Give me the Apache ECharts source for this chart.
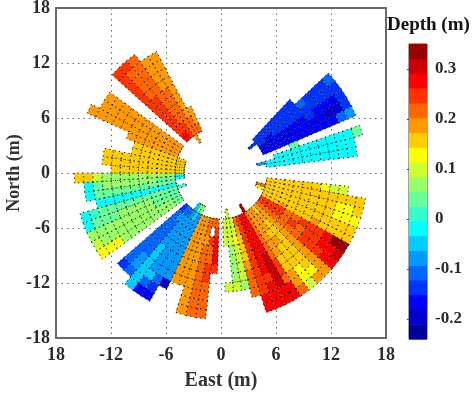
<!DOCTYPE html>
<html><head><meta charset="utf-8">
<style>html,body{margin:0;padding:0;background:#fff}#c{width:474px;height:395px}</style>
<script src="https://cdn.jsdelivr.net/npm/echarts@6/dist/echarts.min.js"></script>
</head><body><div id="c"></div>
<script>
const xTickLabels = {'-18':'18','-12':'-12','-6':'-6','0':'0','6':'6','12':'12','18':'18'};
const yTickLabels = {'-18':'-18','-12':'-12','-6':'-6','0':'0','6':'6','12':'12','18':'18'};
const depthTicks = [-0.2,-0.1,0,0.1,0.2,0.3];
const depthMin = -0.24, depthMax = 0.35;
const jetColors = ['#000099','#0000cc','#0000ff','#0033ff','#0066ff','#0099ff','#00ccff','#00ffff','#33ffcc','#66ff99',
  '#99ff66','#ccff33','#ffff00','#ffcc00','#ff9900','#ff6600','#ff3300','#ff0000','#cc0000','#990000'];
const beamWidth = 4, gateLength = 1;
// bearing (deg clockwise from north) where each beam starts
const beamBearing = [43,47,51,55,59,63,67,71,75,79,
  96,100,104,108,112,116,119,123,127,131,135,139,143,147,150,154,158,162,166,170,174,
  182,186,190,194,198,201,205,209,213,217,221,225,
  234,238,242,246,250,254,258,262,266,270,274,278,282,286,290,294,298,302,
  312,316,320,324,328,332];
// range (m) of the first gate of each beam
const beamFirstRange = [5,4,5,5,5,5,8,6,4,5,
  5,5,4,4,5,5,5,5,5,5,5,5,5,4,5,5,5,5,5,4,5,
  5,5,5,5,5,5,4,4,4,5,5,5,
  5,5,5,5,4,5,5,4,4,4,4,4,4,4,5,5,5,5,
  5,5,5,4,5,5];
// depth (m) per range gate, inner to outer
const beamDepth = [
 [-.14,-.14,-.14,-.14,-.14,-.14],
 [-.14,-.14,-.14,-.14,-.14,-.14,-.14,-.11,-.14,-.14,-.14,-.11],
 [-.14,-.17,-.14,-.14,-.14,-.14,-.14,-.14,-.14,-.14,-.14],
 [-.17,-.17,-.17,-.17,-.17,-.17,-.14,-.17,-.17,-.17,-.14],
 [-.17,-.17,-.17,-.17,-.17,-.17,-.17,-.17,-.2,-.2,-.14],
 [-.17,-.17,-.17,-.17,-.17,-.17,-.17,-.17,-.17,-.11,-.08],
 [.04],
 [-.02,-.02,-.02,-.02,-.02,-.02,-.02,-.02,-.02,.04],
 [-.08,-.02,-.02,-.02,-.02,-.02,-.02,-.02,-.02,-.02,-.02],
 [-.02,-.02,-.02,-.02,-.02,-.02,-.02,-.02,-.02,-.02],
 [.16,.16,.16,.16,.16,.16,.13,.1,.1],
 [.16,.16,.16,.16,.16,.16,.16,.16,.16,.16,.16],
 [.22,.16,.16,.16,.16,.16,.16,.16,.16,.13,.13,.16],
 [.13,.16,.16,.16,.16,.16,.16,.16,.16,.13,.13,.13],
 [.16,.16,.16,.16,.16,.16,.16,.16,.16,.16,.16],
 [.16,.16,.19,.16,.16,.16,.19,.16,.16,.16,.16],
 [.25,.25,.25,.22,.22,.25,.25,.25,.28,.34,.34],
 [.25,.25,.25,.22,.25,.22,.25,.25,.28,.28,.31],
 [.22,.22,.22,.22,.22,.22,.25,.25,.25,.28,.28],
 [.19,.19,.19,.19,.19,.19,.19,.19,.19,.19,.19],
 [.16,.19,.16,.16,.16,.16,.16,.16,.16,.13,.19],
 [.19,.19,.19,.16,.19,.16,.16,.16,.13,.13,.1],
 [.19,.19,.19,.19,.19,.19,.16,.16,.19,.19,.22],
 [.34,.22,.22,.22,.22,.22,.22,.25,.25,.22,.28,.28],
 [.28,.28,.28,.28,.28,.31,.31,.31,.31,.28,.28],
 [.28,.28,.28,.28,.28,.28,.28,.25,.28,.28,.28],
 [.25,.25,.25,.25,.25,.25,.25,.25,.25,.28,.28],
 [.22,.19,.16,.16,.16,.19,.22,.22,.22],
 [.1,.1,.13,.1,.1,.1,.1,.07],
 [.1,.1,.1,.1,.07,.07,.07,.07,.1],
 [.1,.1,.1,null,null,null,null,.1],
 [.22,.25,.28,.28,.28,.25],
 [.22,null,.25,.22,.22,.25,.25,.22,.22,.22,.22],
 [.22,.22,.19,.22,.22,.22,.22,.22,.22,.22,.22],
 [.19,.19,.19,.19,.19,.19,.19,.19,.19,.19,.19],
 [.19,.19,.19,.19,.19,.19,.19,.19],
 [.19,.19,.19,.19,.19,.19,.19,.19],
 [.07,-.08,-.08,-.08,-.08,-.08,-.08,-.08,-.08,-.2],
 [.04,-.05,-.08,-.08,-.08,-.08,-.08,-.08,-.08,-.11,-.14,-.17],
 [-.05,-.08,-.08,-.08,-.08,-.08,-.08,-.08,-.08,-.05,-.11,-.17],
 [-.11,-.08,-.08,-.08,-.08,-.05,-.05,-.05,-.05,-.05,-.05],
 [-.11,-.08,-.11,-.11,-.11,-.11,-.11,-.08,-.08,-.11],
 [-.14,-.11,-.11,-.11,-.11,-.11,-.11,-.11,-.11,-.14],
 [.04,.07,.07,.07,.07,.07,.07,.07,.13,.13,.13],
 [.04,.07,.07,.07,.07,.07,.07,.07,.07,.07,.1],
 [.04,.04,.04,.07,.07,.07,.07,.07,.07,.07,.07],
 [.04,.04,.04,.07,.07,.07,.07,.04,.04,.04,-.02],
 [.01,.04,.04,.04,.04,.04,.04,.04,.04,.04,.01,-.02],
 [-.02,-.02,-.02,-.02,-.02,-.02,-.02,-.02,-.02],
 [.04,.04,.04,.04,.04,.04,.04,.04,.04,-.02],
 [-.02,.04,.04,.07,.07,.07,.07,.07,.07,.04,-.02],
 [-.02,.07,.07,.07,.07,.07,.07,.07,.07,.1,.16,.16],
 [.16,.16,.16,.16,.16,.16,.16,.16],
 [.16,.16,.16,.16,.16,.16,.16,.16,.16],
 [.16,.16,.16,.16,.16,.16,.16,.16,.16],
 [.16,.16,.16,.16,.16,.16],
 [.16,.16,.16,.16,.16,.16],
 [.19,.19,.19,.19,.19,.19],
 [.19,.19,.19,.19,.19,.19,.19,.19,.19,.19,.19],
 [.19,.19,.19,.19,.19,.19,.19,.19,.19,.19],
 [.19,.19,.19,.19,.19,.19,.19,.19,.19,.19],
 [.28,.25,.25,.25,.25,.25,.25,.25,.25,.25,.25],
 [.28,.25,.25,.25,.25,.25,.22,.22,.22,.22,.25],
 [.25,.25,.22,.22,.22,.22,.22,.22,.22,.22,.22],
 [.19,.22,.22,.22,.22,.22,.22,.19,.19,.19,.19],
 [.22,.22,.19,.19,.19,.19,.19,.19,.19,.19],
 [.22,.19,.19]
];

function levelOf(d){
  const n = jetColors.length;
  return Math.max(0, Math.min(n-1, Math.floor((d-depthMin)/(depthMax-depthMin)*n)));
}
const cells = [];
beamDepth.forEach((list,i)=>list.forEach((d,j)=>{
  if(d!==null) cells.push([beamBearing[i], beamFirstRange[i]+j*gateLength, d]);
}));
const pt = (api,b,r)=>{const t=b*Math.PI/180;return api.coord([r*Math.sin(t), r*Math.cos(t)]);};
function renderCell(params,api){
  const b=api.value(0), r=api.value(1), d=api.value(2);
  const r2=r+gateLength, b2=b+beamWidth;
  return {type:'polygon',shape:{points:[pt(api,b,r),pt(api,b,r2),pt(api,b2,r2),pt(api,b2,r)]},
    style:{fill:jetColors[levelOf(d)],stroke:'#000',lineWidth:0.9,lineDash:[1.2,3.3]}};
}
const barStep=(depthMax-depthMin)/jetColors.length;
const barData=jetColors.map((c,i)=>[depthMin+i*barStep, depthMin+(i+1)*barStep, i]);
function renderBar(params,api){
  const p0=api.coord([0,api.value(0)]), p1=api.coord([1,api.value(1)]);
  return {type:'rect',shape:{x:p0[0],y:p1[1],width:p1[0]-p0[0],height:p0[1]-p1[1]+0.5},
    style:{fill:jetColors[api.value(2)]}};
}
const font={fontFamily:'Liberation Serif',fontWeight:'bold',color:'#2b2b2b'};
const chart=echarts.init(document.getElementById('c'),null,{renderer:'canvas'});
chart.setOption({
  animation:false,backgroundColor:'#fff',
  title:{text:'Depth (m)',left:382,top:11,textStyle:{...font,fontSize:19,color:'#111'}},
  grid:[
    {left:56,top:8,width:330,height:330,outerBoundsMode:'none',containLabel:false,show:true,borderColor:'#6a6a6a',borderWidth:2,backgroundColor:'transparent'},
    {left:409,top:44,width:18,height:295,outerBoundsMode:'none',containLabel:false,show:true,borderColor:'#444',borderWidth:1,backgroundColor:'transparent'}
  ],
  xAxis:[
    {gridIndex:0,type:'value',min:-18,max:18,interval:6,name:'East (m)',nameLocation:'middle',nameGap:33,nameMoveOverlap:false,
     nameTextStyle:{...font,fontSize:20,color:'#333'},
     axisLine:{show:false},axisTick:{show:false},
     axisLabel:{...font,fontSize:18,margin:8,formatter:v=>xTickLabels[v]},
     splitLine:{show:true,lineStyle:{color:'#666',width:1,type:[1.5,4]}}},
    {gridIndex:1,type:'value',min:0,max:1,show:false}
  ],
  yAxis:[
    {gridIndex:0,type:'value',min:-18,max:18,interval:6,name:'North (m)',nameLocation:'middle',nameGap:33,nameRotate:90,nameMoveOverlap:false,
     nameTextStyle:{...font,fontSize:18,color:'#333'},
     axisLine:{show:false},axisTick:{show:false},
     axisLabel:{...font,fontSize:18,margin:6,formatter:v=>yTickLabels[v]},
     splitLine:{show:true,lineStyle:{color:'#666',width:1,type:[1.5,4]}}},
    {gridIndex:1,type:'value',min:depthMin,max:depthMax,position:'right',
     axisLine:{show:false},splitLine:{show:false},
     axisTick:{show:true,inside:true,length:2,customValues:depthTicks,lineStyle:{color:'#444'}},
     axisLabel:{...font,fontSize:17,margin:8,customValues:depthTicks,formatter:v=>String(Math.round(v*10)/10)}}
  ],
  series:[
    {type:'custom',xAxisIndex:0,yAxisIndex:0,coordinateSystem:'cartesian2d',data:cells,renderItem:renderCell,silent:true,clip:true,z:3},
    {type:'custom',xAxisIndex:1,yAxisIndex:1,coordinateSystem:'cartesian2d',data:barData,renderItem:renderBar,silent:true,z:3}
  ]
});
</script></body></html>
